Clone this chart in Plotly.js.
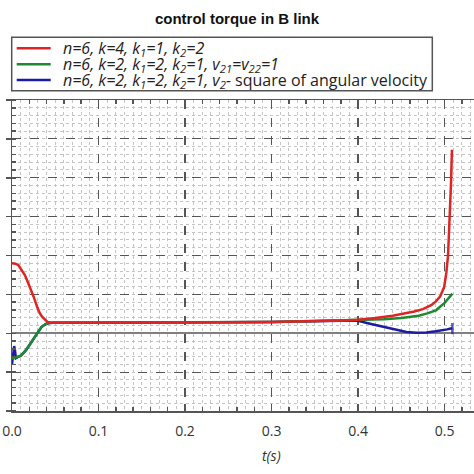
<!DOCTYPE html>
<html>
<head>
<meta charset="utf-8">
<script src="https://cdn.plot.ly/plotly-3.0.1.min.js"></script>
<style>html,body{margin:0;padding:0;background:#fff;}#chart{width:474px;height:474px;}</style>
</head>
<body>
<div id="chart"></div>
<script>
// ---- data ----
const tRed = [0, 0.004, 0.0075, 0.011, 0.015, 0.018, 0.021, 0.025, 0.029, 0.032, 0.035, 0.038, 0.041, 0.045, 0.06, 0.1, 0.15, 0.2, 0.25, 0.3, 0.35, 0.38, 0.4, 0.42, 0.44, 0.455, 0.465, 0.475, 0.485, 0.49, 0.495, 0.4995, 0.502, 0.504, 0.506, 0.5075, 0.5085];
const redVals = [1.80, 1.79, 1.75, 1.64, 1.49, 1.33, 1.18, 0.94, 0.68, 0.52, 0.42, 0.34, 0.29, 0.27, 0.27, 0.27, 0.27, 0.28, 0.28, 0.29, 0.31, 0.33, 0.35, 0.39, 0.45, 0.51, 0.56, 0.62, 0.73, 0.82, 0.95, 1.19, 1.55, 2.0, 3.0, 3.9, 4.72];

const tGreen = [0, 0.003, 0.007, 0.010, 0.013, 0.016, 0.019, 0.022, 0.025, 0.028, 0.031, 0.034, 0.037, 0.040, 0.043, 0.047, 0.06, 0.1, 0.2, 0.3, 0.35, 0.4, 0.43, 0.45, 0.47, 0.48, 0.49, 0.5, 0.505, 0.509];
const greenVals = [-0.65, -0.63, -0.61, -0.58, -0.52, -0.44, -0.35, -0.25, -0.14, -0.03, 0.08, 0.16, 0.21, 0.25, 0.27, 0.27, 0.27, 0.27, 0.28, 0.29, 0.31, 0.34, 0.36, 0.39, 0.45, 0.51, 0.59, 0.78, 0.92, 1.02];

const tBlue = [0, 0.0015, 0.0025, 0.0035, 0.0045, 0.006, 0.01, 0.016, 0.022, 0.028, 0.034, 0.04, 0.047, 0.1, 0.2, 0.3, 0.38, 0.4, 0.415, 0.43, 0.445, 0.456, 0.468, 0.479, 0.49, 0.497, 0.503, 0.507, 0.509];
const blueVals = [-0.80, -0.55, -0.33, -0.45, -0.64, -0.62, -0.58, -0.44, -0.25, -0.03, 0.16, 0.25, 0.27, 0.27, 0.28, 0.29, 0.32, 0.32, 0.24, 0.16, 0.08, 0.03, 0.01, 0.02, 0.05, 0.07, 0.10, 0.12, 0.12];

const seriesNames = [
  "<i>n=6, k=4, k<sub>1</sub>=1, k<sub>2</sub>=2</i>",
  "<i>n=6, k=2, k<sub>1</sub>=2, k<sub>2</sub>=1, v<sub>21</sub>=v<sub>22</sub>=1</i>",
  "<i>n=6, k=2, k<sub>1</sub>=2, k<sub>2</sub>=1, v<sub>2</sub>-</i> square of angular velocity"
];
const seriesColors = ["#e02424", "#1d8a2e", "#1b1ba3"];
const chartTitle = "control torque in B link";
const xTitle = "<i>t(s)</i>";

// ---- geometry helpers (pixel -> paper) ----
const M = {l: 12, r: 0, t: 100, b: 63};
const PW = 474 - M.l - M.r, PH = 474 - M.t - M.b;
const px = v => (v - M.l) / PW;
const py = v => (474 - M.b - v) / PH;

// ---- traces ----
const blueMarkerSizes = blueVals.map((v, i) => i === blueVals.length - 1 ? 8 : 0);
const traces = [
  {x: tBlue, y: blueVals, name: seriesNames[2], mode: "lines+markers", line: {color: seriesColors[2], width: 2.5},
   marker: {symbol: "line-ns", size: blueMarkerSizes, color: seriesColors[2], line: {color: seriesColors[2], width: 2.5}}},
  {x: tGreen, y: greenVals, name: seriesNames[1], mode: "lines", line: {color: seriesColors[1], width: 2.5}},
  {x: tRed, y: redVals, name: seriesNames[0], mode: "lines", line: {color: seriesColors[0], width: 2.5}},
  {x: [null], y: [null], xaxis: "x2", showlegend: false, hoverinfo: "skip", mode: "lines"}
];

// ---- custom legend (box, line samples, labels) ----
const legendRows = [48.3, 64.2, 80.0];
const shapes = [
  {type: "rect", xref: "paper", yref: "paper", x0: px(11.7), x1: px(432.3), y0: py(37.3), y1: py(90.7),
   line: {color: "#555", width: 1.5}, fillcolor: "#ffffff", layer: "above"}
];
const annotations = [];
seriesNames.forEach((nm, i) => {
  shapes.push({type: "line", xref: "paper", yref: "paper", x0: px(16.7), x1: px(50.7), y0: py(legendRows[i]), y1: py(legendRows[i]),
               line: {color: seriesColors[i], width: 2.5}, layer: "above"});
  annotations.push({text: nm, xref: "paper", yref: "paper", x: px(61), y: py(legendRows[i]),
                    xanchor: "left", yanchor: "middle", showarrow: false,
                    font: {size: 16, color: "#222", family: "Open Sans, DejaVu Sans, sans-serif"}});
});
annotations.push({text: xTitle, xref: "paper", yref: "paper", x: px(271), y: py(455),
                  xanchor: "center", yanchor: "middle", showarrow: false,
                  font: {size: 14, color: "#333", family: "Open Sans, Liberation Sans, sans-serif"}});

const xRange = [0, 0.534];
const layout = {
  width: 474, height: 474,
  margin: M,
  paper_bgcolor: "#ffffff", plot_bgcolor: "#ffffff",
  font: {family: "Liberation Sans, Arial, sans-serif", color: "#333"},
  title: {text: "<b>" + chartTitle + "</b>", x: 0.5, xref: "container", xanchor: "center",
          y: 1 - 19/474, yref: "container", yanchor: "middle",
          font: {size: 15, color: "#111", family: "Liberation Sans, Arial, sans-serif"}},
  showlegend: false,
  xaxis: {range: xRange, dtick: 0.1, tick0: 0, tickformat: ".1f",
          showgrid: true, gridcolor: "#555", griddash: "dash", gridwidth: 1.2,
          showline: true, linecolor: "#555", linewidth: 1.5, mirror: "ticks",
          ticks: "inside", ticklen: 7, tickcolor: "#555", tickwidth: 1.5, ticklabelstandoff: 7,
          tickfont: {size: 14, color: "#333", family: "Open Sans, Liberation Sans, sans-serif"}, zeroline: false,
          minor: {dtick: 0.01, showgrid: true, gridcolor: "#c4c4c4", griddash: "dot", gridwidth: 1, ticks: ""}},
  xaxis2: {range: xRange, overlaying: "x", anchor: "y", dtick: 0.1, tick0: 0, showgrid: false,
           showticklabels: false, showline: false, mirror: "ticks", zeroline: false,
           ticks: "inside", ticklen: 7, tickcolor: "#555", tickwidth: 1.5,
           minor: {dtick: 0.02, ticks: "inside", ticklen: 4, tickcolor: "#555", showgrid: false}},
  yaxis: {range: [-2, 6], dtick: 1, tick0: 0, showticklabels: false,
          showgrid: true, gridcolor: "#555", griddash: "dash", gridwidth: 1.2,
          showline: true, linecolor: "#555", linewidth: 1.5,
          ticks: "outside", ticklen: 5, tickcolor: "#555", tickwidth: 1.5,
          zeroline: true, zerolinecolor: "#808080", zerolinewidth: 1.6,
          minor: {dtick: 0.2, showgrid: true, gridcolor: "#c4c4c4", griddash: "dot", gridwidth: 1,
                  ticks: "inside", ticklen: 4, tickcolor: "#555"}},
  shapes: shapes,
  annotations: annotations
};

Plotly.newPlot("chart", traces, layout, {displayModeBar: false, staticPlot: true});
</script>
</body>
</html>
